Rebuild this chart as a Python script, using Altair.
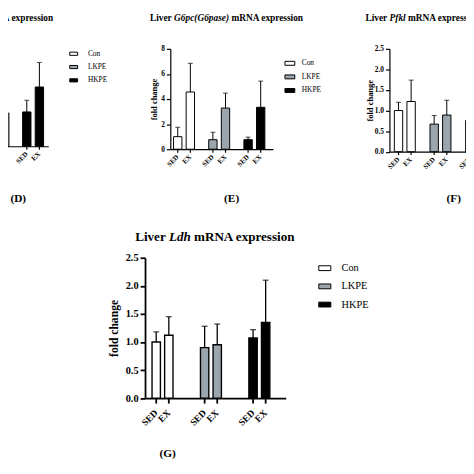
import altair as alt
import pandas as pd

SERIF = "Liberation Serif"
GROUPS = ["Con", "LKPE", "HKPE"]
CONDS = ["SED", "EX"]
FILLS = ["#ffffff", "#9ba5ad", "#000000"]
SWATCH = "M-1,-0.4H1V0.4H-1Z"

# ---- data ----
# Panel D (only its right part is visible)
d_group = ["LKPE", "HKPE", "HKPE"]
d_cond = ["EX", "SED", "EX"]
d_mean = [0.85, 0.88, 1.52]
d_upper = [1.02, 1.18, 2.15]

# Panel E: Liver G6pc(G6pase)
e_group = ["Con", "Con", "LKPE", "LKPE", "HKPE", "HKPE"]
e_cond = ["SED", "EX", "SED", "EX", "SED", "EX"]
e_mean = [1.0, 4.56, 0.76, 3.28, 0.76, 3.34]
e_upper = [1.75, 6.85, 1.35, 4.47, 0.96, 5.43]

# Panel F: Liver Pfkl (right part cut off)
f_group = ["Con", "Con", "LKPE", "LKPE", "HKPE"]
f_cond = ["SED", "EX", "SED", "EX", "SED"]
f_mean = [1.0, 1.22, 0.67, 0.89, 0.76]
f_upper = [1.2, 1.74, 0.88, 1.25, 0.80]

# Panel G: Liver Ldh
g_group = ["Con", "Con", "LKPE", "LKPE", "HKPE", "HKPE"]
g_cond = ["SED", "EX", "SED", "EX", "SED", "EX"]
g_mean = [1.0, 1.12, 0.90, 0.95, 1.07, 1.35]
g_upper = [1.18, 1.45, 1.28, 1.32, 1.22, 2.10]

D_TITLE = ["mRNA expression"]
E_TITLE = ["Liver", "G6pc(G6pase)", "mRNA expression"]
F_TITLE = ["Liver", "Pfkl", "mRNA expression"]
G_TITLE = ["Liver", "Ldh", "mRNA expression"]
Y_TITLE = "fold change"

# Times-compatible advance widths (per 1000 em) for laying out mixed-style titles
W_BOLD = {"Liver": 2333, "mRNA expression": 7749}
W_BI = {"G6pc(G6pase)": 5887, "Pfkl": 1722, "Ldh": 1667}
W_SPACE = 250


def title_layers(parts, x0, y0, fs):
    one = pd.DataFrame({"k": [0]})
    layers = []
    x = x0
    for i, p in enumerate(parts):
        italic = (len(parts) == 3 and i == 1)
        layers.append(
            alt.Chart(one).mark_text(
                text=p, font=SERIF, fontWeight="bold",
                fontStyle="italic" if italic else "normal",
                fontSize=fs, color="black", align="left", baseline="middle",
            ).encode(x=alt.value(x), y=alt.value(y0))
        )
        w = (W_BI if italic else W_BOLD)[p]
        x += (w + W_SPACE) * fs / 1000.0
    return layers


def text_layer(txt, x, y, fs, align="center", weight="bold"):
    one = pd.DataFrame({"k": [0]})
    return alt.Chart(one).mark_text(
        text=txt, font=SERIF, fontWeight=weight, fontSize=fs, color="black",
        align=align, baseline="middle",
    ).encode(x=alt.value(x), y=alt.value(y))


def panel(groups, conds, means, uppers, s):
    df = pd.DataFrame({"group": groups, "cond": conds, "mean": means, "upper": uppers})
    base = alt.Chart(df)
    w, h = s["w"], s["h"]
    xenc = alt.X(
        "group:N",
        scale=alt.Scale(domain=GROUPS, paddingInner=s["pi"], paddingOuter=s["po"], align=s["align"]),
        axis=alt.Axis(labels=False, ticks=False, title=None, grid=False,
                      domainColor="black", domainWidth=s["aw"]),
    )
    xoff = alt.XOffset("cond:N", scale=alt.Scale(domain=CONDS, paddingInner=s["pio"], paddingOuter=0))
    if s["show_y"]:
        yaxis = alt.Axis(
            values=s["yvals"], format=s["yfmt"], grid=False,
            domainColor="black", domainWidth=s["aw"],
            tickColor="black", tickWidth=s["aw"], tickSize=s["ytick"],
            labelFont=SERIF, labelFontWeight="bold", labelFontSize=s["fs_y"],
            labelColor="black", labelPadding=2,
            title=Y_TITLE, titleFont=SERIF, titleFontWeight="bold",
            titleFontSize=s["fs_yt"], titleColor="black",
            titleX=s["ytx"], titleY=h / 2, titleAngle=270,
            titleAlign="center", titleBaseline="middle",
        )
    else:
        yaxis = None
    yscale = alt.Scale(domain=s["ydom"], nice=False, zero=True)
    if s["legend"]:
        lg = s["legend"]
        legend = alt.Legend(
            orient="none", legendX=lg["x"], legendY=lg["y"], title=None,
            symbolType=SWATCH, symbolSize=lg["size"], symbolStrokeColor="black",
            symbolStrokeWidth=1, labelFont=SERIF, labelFontSize=lg["fs"],
            labelColor="black", rowPadding=lg["rp"], labelOffset=lg["lo"], padding=0,
        )
    else:
        legend = None
    fill = alt.Fill("group:N", scale=alt.Scale(domain=GROUPS, range=FILLS), legend=legend)

    bars = base.mark_bar(stroke="black", strokeWidth=s["bw"]).encode(
        x=xenc, xOffset=xoff, y=alt.Y("mean:Q", scale=yscale, axis=yaxis), fill=fill
    )
    err = base.mark_rule(color="black", strokeWidth=s["ew"]).encode(
        x=xenc, xOffset=xoff, y=alt.Y("mean:Q", scale=yscale, axis=yaxis), y2="upper:Q"
    )
    cap = base.mark_tick(color="black", thickness=s["ew"], size=s["cap"]).encode(
        x=xenc, xOffset=xoff, y=alt.Y("upper:Q", scale=yscale, axis=yaxis)
    )
    xt = base.mark_rule(color="black", strokeWidth=s["aw"]).encode(
        x=xenc, xOffset=xoff, y=alt.value(h), y2=alt.value(h + s["xtick"])
    )
    xl = base.mark_text(
        angle=315, align="right", baseline="middle", font=SERIF, fontWeight="bold",
        fontSize=s["fs_x"], color="black",
    ).encode(x=xenc, xOffset=xoff, y=alt.value(h + s["ldy"]), text="cond:N")

    layers = [bars, err, cap, xt, xl]
    layers += s["extra"]
    return alt.layer(*layers).properties(width=w, height=h)


TOP_FS = 9.5
TY = -31.5
LY = 152.5
common_top = dict(aw=1.2, bw=1.0, ew=1.0, cap=5, ytick=4, xtick=3.5, ldy=7,
                  fs_y=7.5, fs_yt=8.6, fs_x=7, ytx=-17.4, show_y=True,
                  ydom=[0, 2.5], yvals=[0, 0.5, 1.0, 1.5, 2.0, 2.5], yfmt=".1f")

sD = dict(common_top, w=104, h=99, pi=0.395, po=0.175, align=0.61, pio=0.336, show_y=False,
          legend=dict(x=125.3, y=0.5, size=64, fs=7.5, rp=4.5, lo=10),
          extra=[text_layer(D_TITLE[0], 109, TY, TOP_FS, align="right"),
                 text_layer("(D)", 73.5, LY, 11.5)])
sE = dict(common_top, w=104.3, h=102, pi=0.362, po=0.14, align=0.33, pio=0.311,
          ydom=[0, 8], yvals=[0, 2, 4, 6, 8], yfmt="d",
          legend=dict(x=116, y=9.2, size=100, fs=7.5, rp=3.8, lo=6.6),
          extra=title_layers(E_TITLE, -20.7, TY, TOP_FS) + [text_layer("(E)", 62.3, LY, 11.5)])
sF = dict(common_top, w=106.3, h=104.5, pi=0.379, po=0.156, align=0.44, pio=0.39,
          ytx=-20, legend=None,
          extra=title_layers(F_TITLE, -24.4, TY, TOP_FS) + [text_layer("(F)", 65.3, LY, 11.5)])
sG = dict(aw=1.8, bw=1.4, ew=1.3, cap=6, ytick=5, xtick=5.5, ldy=13.5,
          fs_y=10.5, fs_yt=11.8, fs_x=9.5, ytx=-32, show_y=True,
          ydom=[0, 2.5], yvals=[0, 0.5, 1.0, 1.5, 2.0, 2.5], yfmt=".1f",
          w=143, h=142.7, pi=0.396, po=0.151, align=0.48, pio=0.35,
          legend=dict(x=175.7, y=3.6, size=150, fs=10.5, rp=5.5, lo=10),
          extra=title_layers(G_TITLE, -10, -21.5, 13.3) + [text_layer("(G)", 23, 200, 11.5)])

pD = panel(d_group, d_cond, d_mean, d_upper, sD)
pE = panel(e_group, e_cond, e_mean, e_upper, sE)
pF = panel(f_group, f_cond, f_mean, f_upper, sF)
pG = panel(g_group, g_cond, g_mean, g_upper, sG)

spacer = alt.Chart(pd.DataFrame({"k": [0]})).mark_point(opacity=0).properties(width=1, height=1)

ef = alt.hconcat(pE, pF, spacing=117.7, bounds="flush").resolve_scale(fill="independent").resolve_legend(fill="independent")
top = alt.hconcat(pD, ef, spacing=124.0, bounds="flush").resolve_scale(fill="independent").resolve_legend(fill="independent")
bottom = alt.hconcat(spacer, pG, spacing=201.3, bounds="flush").resolve_scale(fill="independent").resolve_legend(fill="independent")

chart = alt.vconcat(top, bottom, spacing=212.3, bounds="flush").resolve_scale(
    fill="independent").resolve_legend(fill="independent").properties(
    padding={"left": -66.05, "top": 0.8, "right": -28.5, "bottom": 0},
    background="white",
).configure_view(stroke=None)

chart.save("out.html", embed_options={"renderer": "svg", "actions": False})
